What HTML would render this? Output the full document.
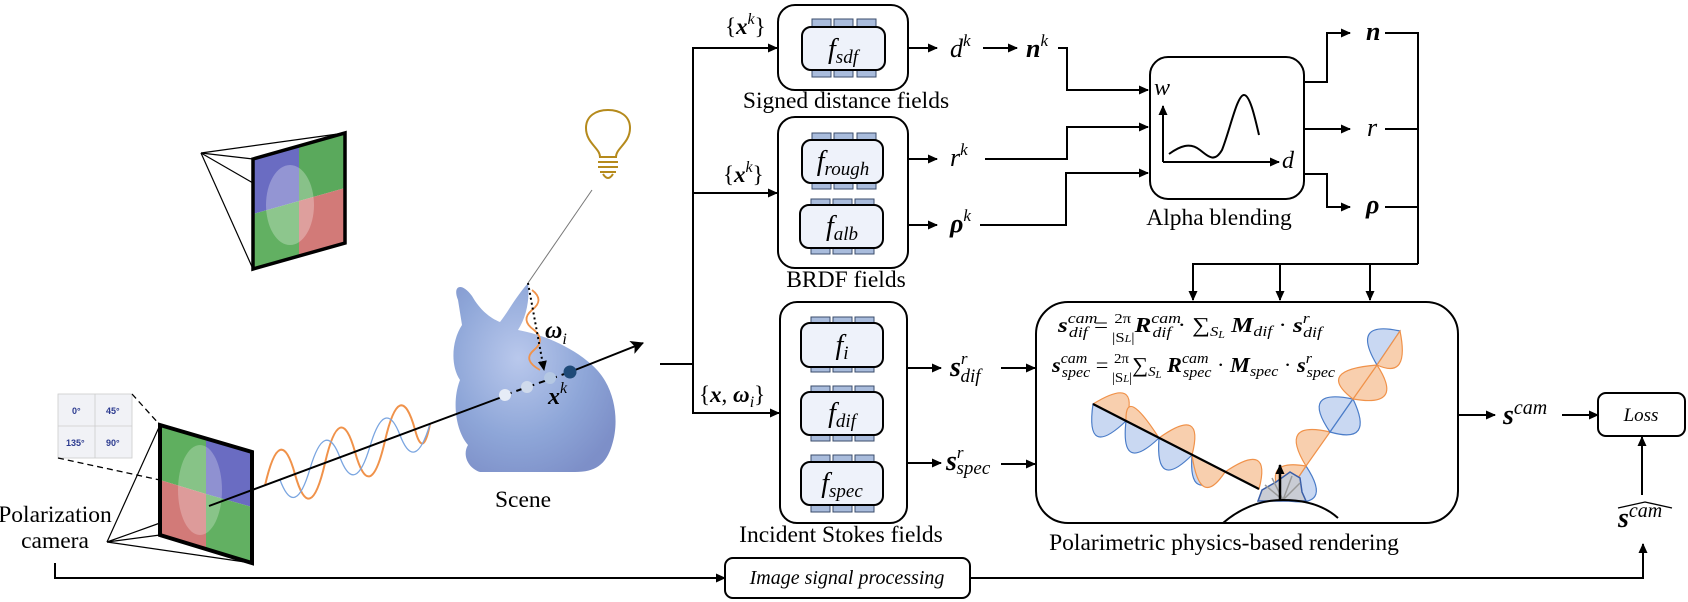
<!DOCTYPE html>
<html><head><meta charset="utf-8"><style>
html,body{margin:0;padding:0;background:#fff;}
svg{display:block;}
text{font-family:"Liberation Serif",serif;fill:#000;}
.it{font-style:italic;}
.bi{font-style:italic;font-weight:bold;}
.lbl{font-size:23.5px;}
</style></head><body>
<svg width="1688" height="602" viewBox="0 0 1688 602" xmlns="http://www.w3.org/2000/svg">
<defs>
<marker id="ah" markerWidth="10" markerHeight="10" refX="9" refY="5" orient="auto" markerUnits="userSpaceOnUse">
<path d="M0,0.5 L10,5 L0,9.5 Z" fill="#000"/></marker>
<marker id="ah2" markerWidth="14" markerHeight="14" refX="12" refY="7" orient="auto" markerUnits="userSpaceOnUse">
<path d="M0,0 L13,7 L0,14 L3,7 Z" fill="#000"/></marker>
<radialGradient id="bun" cx="0.4" cy="0.4" r="0.7">
<stop offset="0" stop-color="#b9c8ec"/><stop offset="0.6" stop-color="#8ea6d8"/><stop offset="1" stop-color="#7d8fc8"/></radialGradient>
</defs>

<!-- top camera -->
<g stroke="#000" stroke-width="1.2" fill="none">
<line x1="201" y1="153" x2="253" y2="159"/><line x1="201" y1="153" x2="345" y2="133"/>
<line x1="201" y1="153" x2="253" y2="269"/><line x1="201" y1="153" x2="253" y2="183"/>
</g>
<polygon points="253,159 299,146 299,201 253,214" fill="#6a6cc2"/>
<polygon points="299,146 345,133 345,188 299,201" fill="#5aa95c"/>
<polygon points="253,214 299,201 299,256 253,269" fill="#62b062"/>
<polygon points="299,201 345,188 345,243 299,256" fill="#d27a78"/>
<ellipse cx="290" cy="205" rx="24" ry="40" fill="#fff" opacity="0.28"/>
<polygon points="253,159 345,133 345,243 253,269" fill="none" stroke="#000" stroke-width="3.5"/>

<!-- small grid -->
<g stroke="#ccc" stroke-width="0.8">
<rect x="58" y="394" width="74" height="64" fill="#f1f2f6"/>
<line x1="95" y1="394" x2="95" y2="458"/><line x1="58" y1="426" x2="132" y2="426"/>
</g>
<g font-size="9" font-weight="bold">
<text x="72" y="414" style="font-family:'Liberation Sans',sans-serif;fill:#2b3a8f">0°</text>
<text x="106" y="414" style="font-family:'Liberation Sans',sans-serif;fill:#2b3a8f">45°</text>
<text x="66" y="446" style="font-family:'Liberation Sans',sans-serif;fill:#2b3a8f">135°</text>
<text x="106" y="446" style="font-family:'Liberation Sans',sans-serif;fill:#2b3a8f">90°</text>
</g>
<g stroke="#000" stroke-width="1.3" stroke-dasharray="6,4" fill="none">
<line x1="132" y1="394" x2="160" y2="425"/><line x1="58" y1="458" x2="160" y2="480"/>
</g>

<!-- bottom camera -->
<g stroke="#000" stroke-width="1.2" fill="none">
<line x1="107" y1="542" x2="160" y2="425"/><line x1="107" y1="542" x2="160" y2="523"/>
<line x1="107" y1="542" x2="160" y2="535"/><line x1="107" y1="542" x2="252" y2="563"/>
</g>
<polygon points="160,425 206,438 206,494 160,480" fill="#5faf5f"/>
<polygon points="206,438 252,452 252,507 206,494" fill="#6a6cc2"/>
<polygon points="160,480 206,494 206,549 160,535" fill="#d27a78"/>
<polygon points="206,494 252,507 252,563 206,549" fill="#62b062"/>
<ellipse cx="200" cy="490" rx="22" ry="45" fill="#fff" opacity="0.25"/>
<polygon points="160,425 252,452 252,563 160,535" fill="none" stroke="#000" stroke-width="4"/>
<text class="lbl" x="55" y="522" text-anchor="middle">Polarization</text>
<text class="lbl" x="55" y="548" text-anchor="middle">camera</text>

<!-- bunny -->
<path d="M458,300 C452,285 462,282 472,296 C480,310 490,318 500,322 C508,312 515,298 528,283 C530,300 526,318 518,330 C540,334 570,345 592,365 C615,385 620,420 612,445 C606,465 595,472 575,472 L480,472 C468,468 462,455 468,445 C455,430 452,400 460,380 C450,365 452,340 462,325 Z" fill="url(#bun)"/>
<text class="lbl" x="523" y="507" text-anchor="middle">Scene</text>

<!-- ray and waves -->
<path d="M265,485.5 Q280,420 295,474.3 Q310,528 325,463.1 Q340,398 355,451.9 Q370,506 385,440.7 Q400,376 415,429.6 Q423,460 430,424" fill="none" stroke="#f0924a" stroke-width="2"/>
<path d="M280,479.9 Q295,520 310,468.7 Q325,418 340,457.5 Q355,497 370,446.3 Q385,396 400,435.1 Q415,474 430,424" fill="none" stroke="#7aa5e0" stroke-width="1.3"/>
<line x1="209" y1="506" x2="502" y2="397" stroke="#000" stroke-width="2"/>
<line x1="505" y1="395" x2="570" y2="372" stroke="#000" stroke-width="2" stroke-dasharray="7,5"/>
<line x1="570" y1="372" x2="643" y2="343" stroke="#000" stroke-width="2" marker-end="url(#ah2)"/>
<circle cx="505" cy="395" r="6" fill="#e6ecf6"/><circle cx="527" cy="387" r="6" fill="#cfdaec"/>
<circle cx="550" cy="378" r="6" fill="#b5c8e3"/><circle cx="570" cy="372" r="6.5" fill="#1f4a78"/>

<!-- light bulb -->
<g stroke="#b58a1c" stroke-width="2" fill="none">
<path d="M600,157 C600,148 586,143 586,128 C586,116 596,110 608,110 C620,110 630,116 630,128 C630,143 616,148 616,157 Z"/>
<line x1="598" y1="162" x2="618" y2="162"/><line x1="598" y1="167" x2="618" y2="167"/><line x1="600" y1="172" x2="616" y2="172"/>
<path d="M603,174 Q608,182 613,174"/>
</g>
<line x1="592" y1="190" x2="528" y2="283" stroke="#777" stroke-width="1"/>
<path d="M532,290 Q545,300 532,310 Q520,320 534,330 Q546,340 534,350 Q522,360 540,370" fill="none" stroke="#f0924a" stroke-width="1.8"/>
<line x1="528" y1="283" x2="544" y2="370" stroke="#000" stroke-width="2" stroke-dasharray="2,3" marker-end="url(#ah)"/>
<text class="bi" x="545" y="338" font-size="24">ω<tspan font-size="16" font-weight="normal" dy="6">i</tspan></text>
<text class="bi" x="548" y="404" font-size="24">x<tspan font-size="16" font-weight="normal" dy="-11">k</tspan></text>

<!-- trunk -->
<g stroke="#000" stroke-width="2" fill="none">
<polyline points="660,364 693,364"/>
<polyline points="693,413 693,48 777,48" marker-end="url(#ah)"/>
<polyline points="693,193 777,193" marker-end="url(#ah)"/>
<polyline points="693,364 693,413 779,413" marker-end="url(#ah)"/>
</g>
<text x="725" y="34" font-size="23">{<tspan class="bi">x</tspan><tspan class="it" font-size="16" dy="-10">k</tspan><tspan dy="10">}</tspan></text>
<text x="723" y="182" font-size="23">{<tspan class="bi">x</tspan><tspan class="it" font-size="16" dy="-10">k</tspan><tspan dy="10">}</tspan></text>
<text x="699" y="402" font-size="23">{<tspan class="bi">x</tspan>, <tspan class="bi">ω</tspan><tspan class="it" font-size="16" dy="5">i</tspan><tspan dy="-5">}</tspan></text>

<!-- network boxes -->
<g fill="none" stroke="#000" stroke-width="2">
<rect x="778" y="5" width="130" height="85" rx="17"/>
<rect x="778" y="117" width="130" height="151" rx="17"/>
<rect x="780" y="302" width="127" height="221" rx="17"/>
</g>
<g fill="#a9bcdc" stroke="#3b4d6b" stroke-width="1">
<rect x="812" y="19" width="19" height="8"/><rect x="834" y="19" width="19" height="8"/><rect x="857" y="19" width="19" height="8"/>
<rect x="812" y="70" width="19" height="7"/><rect x="834" y="70" width="19" height="7"/><rect x="857" y="70" width="19" height="7"/>
<rect x="812" y="133" width="19" height="7"/><rect x="834" y="133" width="19" height="7"/><rect x="857" y="133" width="19" height="7"/>
<rect x="812" y="183" width="19" height="6"/><rect x="834" y="183" width="19" height="6"/><rect x="857" y="183" width="19" height="6"/>
<rect x="811" y="199" width="19" height="6"/><rect x="833" y="199" width="19" height="6"/><rect x="855" y="199" width="19" height="6"/>
<rect x="811" y="248" width="19" height="6"/><rect x="833" y="248" width="19" height="6"/><rect x="855" y="248" width="19" height="6"/>
<rect x="811" y="317" width="19" height="6"/><rect x="833" y="317" width="19" height="6"/><rect x="855" y="317" width="19" height="6"/>
<rect x="811" y="367" width="19" height="5"/><rect x="833" y="367" width="19" height="5"/><rect x="855" y="367" width="19" height="5"/>
<rect x="811" y="386" width="19" height="6"/><rect x="833" y="386" width="19" height="6"/><rect x="855" y="386" width="19" height="6"/>
<rect x="811" y="435" width="19" height="6"/><rect x="833" y="435" width="19" height="6"/><rect x="855" y="435" width="19" height="6"/>
<rect x="811" y="455" width="19" height="7"/><rect x="833" y="455" width="19" height="7"/><rect x="855" y="455" width="19" height="7"/>
<rect x="811" y="505" width="19" height="7"/><rect x="833" y="505" width="19" height="7"/><rect x="855" y="505" width="19" height="7"/>
</g>
<g fill="#eef2fa" stroke="#000" stroke-width="2">
<rect x="802" y="27" width="83" height="43" rx="9"/>
<rect x="802" y="140" width="81" height="43" rx="9"/>
<rect x="800" y="205" width="83" height="43" rx="9"/>
<rect x="801" y="323" width="82" height="44" rx="9"/>
<rect x="801" y="392" width="82" height="43" rx="9"/>
<rect x="801" y="462" width="82" height="43" rx="9"/>
</g>
<g font-size="28">
<text x="843" y="58" text-anchor="middle" class="it">f<tspan font-size="19" dy="5">sdf</tspan></text>
<text x="843" y="170" text-anchor="middle" class="it">f<tspan font-size="19" dy="5">rough</tspan></text>
<text x="842" y="235" text-anchor="middle" class="it">f<tspan font-size="19" dy="5">alb</tspan></text>
<text x="842" y="354" text-anchor="middle" class="it">f<tspan font-size="19" dy="5">i</tspan></text>
<text x="842" y="422" text-anchor="middle" class="it">f<tspan font-size="19" dy="5">dif</tspan></text>
<text x="842" y="492" text-anchor="middle" class="it">f<tspan font-size="19" dy="5">spec</tspan></text>
</g>
<text class="lbl" x="846" y="108" text-anchor="middle">Signed distance fields</text>
<text class="lbl" x="846" y="287" text-anchor="middle">BRDF fields</text>
<text class="lbl" x="841" y="542" text-anchor="middle">Incident Stokes fields</text>

<!-- field outputs -->
<g stroke="#000" stroke-width="2" fill="none">
<line x1="908" y1="48" x2="937" y2="48" marker-end="url(#ah)"/>
<line x1="983" y1="48" x2="1017" y2="48" marker-end="url(#ah)"/>
<polyline points="1058,48 1067,48 1067,90 1148,90" marker-end="url(#ah)"/>
<line x1="908" y1="159" x2="937" y2="159" marker-end="url(#ah)"/>
<polyline points="985,159 1067,159 1067,127 1148,127" marker-end="url(#ah)"/>
<line x1="908" y1="225" x2="937" y2="225" marker-end="url(#ah)"/>
<polyline points="980,225 1066,225 1066,173 1148,173" marker-end="url(#ah)"/>
<line x1="907" y1="368" x2="941" y2="368" marker-end="url(#ah)"/>
<line x1="1001" y1="368" x2="1035" y2="368" marker-end="url(#ah)"/>
<line x1="907" y1="463" x2="941" y2="463" marker-end="url(#ah)"/>
<line x1="1001" y1="464" x2="1035" y2="464" marker-end="url(#ah)"/>
</g>
<text class="it" x="950" y="57" font-size="26">d<tspan font-size="17" dy="-11">k</tspan></text>
<text class="bi" x="1026" y="57" font-size="26">n<tspan font-size="17" font-weight="normal" dy="-11">k</tspan></text>
<text class="it" x="950" y="166" font-size="26">r<tspan font-size="17" dy="-11">k</tspan></text>
<text class="bi" x="950" y="232" font-size="26">ρ<tspan font-size="17" font-weight="normal" dy="-11">k</tspan></text>
<text class="bi" x="950" y="376" font-size="28">s<tspan font-size="17" font-weight="normal" dy="-12">r</tspan><tspan font-size="19" font-weight="normal" dx="-7" dy="18">dif</tspan></text>
<text class="bi" x="946" y="470" font-size="28">s<tspan font-size="17" font-weight="normal" dy="-12">r</tspan><tspan font-size="19" font-weight="normal" dx="-7" dy="16">spec</tspan></text>

<!-- alpha blending -->
<rect x="1150" y="57" width="154" height="142" rx="18" fill="none" stroke="#000" stroke-width="2"/>
<text class="it" x="1154" y="95" font-size="24">w</text>
<line x1="1163" y1="162" x2="1163" y2="106" stroke="#000" stroke-width="2" marker-end="url(#ah)"/>
<line x1="1163" y1="162" x2="1279" y2="162" stroke="#000" stroke-width="2" marker-end="url(#ah)"/>
<text class="it" x="1282" y="168" font-size="24">d</text>
<path d="M1169,154 C1180,146 1190,142 1200,150 C1210,158 1215,162 1222,150 C1230,130 1237,95 1244,95 C1250,95 1255,118 1259,135" fill="none" stroke="#000" stroke-width="2"/>
<text class="lbl" x="1219" y="225" text-anchor="middle">Alpha blending</text>
<g stroke="#000" stroke-width="2" fill="none">
<polyline points="1304,82 1327,82 1327,33 1350,33" marker-end="url(#ah)"/>
<line x1="1304" y1="129" x2="1350" y2="129" marker-end="url(#ah)"/>
<polyline points="1304,174 1327,174 1327,207 1350,207" marker-end="url(#ah)"/>
<polyline points="1385,33 1418,33 1418,264"/>
<line x1="1385" y1="129" x2="1418" y2="129"/>
<line x1="1385" y1="207" x2="1418" y2="207"/>
<polyline points="1418,264 1193,264 1193,300" marker-end="url(#ah)"/>
<line x1="1280" y1="264" x2="1280" y2="300" marker-end="url(#ah)"/>
<line x1="1370" y1="264" x2="1370" y2="300" marker-end="url(#ah)"/>
</g>
<text class="bi" x="1366" y="40" font-size="26">n</text>
<text class="it" x="1367" y="136" font-size="26">r</text>
<text class="bi" x="1366" y="213" font-size="26">ρ</text>

<!-- polarimetric rendering -->
<rect x="1036" y="302" width="422" height="221" rx="32" fill="none" stroke="#000" stroke-width="2"/>
<text x="1058" y="332" font-size="21" textLength="264" lengthAdjust="spacingAndGlyphs"><tspan class="bi">s</tspan><tspan class="it" font-size="15" dy="-9">cam</tspan><tspan class="it" font-size="15" dx="-24" dy="14">dif</tspan><tspan dy="-5"> = </tspan><tspan font-size="14" dy="-9">2π</tspan><tspan font-size="14" dx="-16" dy="19">|S</tspan><tspan font-size="10" class="it">L</tspan><tspan font-size="14">|</tspan><tspan class="bi" dy="-10">R</tspan><tspan class="it" font-size="15" dy="-9">cam</tspan><tspan class="it" font-size="15" dx="-24" dy="14">dif</tspan><tspan dy="-5"> · ∑</tspan><tspan class="it" font-size="14" dy="4">S</tspan><tspan class="it" font-size="10" dy="2">L</tspan><tspan class="bi" dy="-6"> M</tspan><tspan class="it" font-size="15" dy="4">dif</tspan><tspan dy="-4"> · </tspan><tspan class="bi">s</tspan><tspan class="it" font-size="15" dy="-9">r</tspan><tspan class="it" font-size="15" dx="-5" dy="14">dif</tspan></text>
<text x="1052" y="372" font-size="21" textLength="283" lengthAdjust="spacingAndGlyphs"><tspan class="bi">s</tspan><tspan class="it" font-size="15" dy="-9">cam</tspan><tspan class="it" font-size="15" dx="-24" dy="14">spec</tspan><tspan dy="-5"> = </tspan><tspan font-size="14" dy="-9">2π</tspan><tspan font-size="14" dx="-16" dy="19">|S</tspan><tspan font-size="10" class="it">L</tspan><tspan font-size="14">|</tspan><tspan dy="-10">∑</tspan><tspan class="it" font-size="14" dy="4">S</tspan><tspan class="it" font-size="10" dy="2">L</tspan><tspan class="bi" dy="-6"> R</tspan><tspan class="it" font-size="15" dy="-9">cam</tspan><tspan class="it" font-size="15" dx="-24" dy="14">spec</tspan><tspan dy="-5"> · </tspan><tspan class="bi">M</tspan><tspan class="it" font-size="15" dy="4">spec</tspan><tspan dy="-4"> · </tspan><tspan class="bi">s</tspan><tspan class="it" font-size="15" dy="-9">r</tspan><tspan class="it" font-size="15" dx="-5" dy="14">spec</tspan></text>

<g stroke-width="1.2">
<path d="M1093,404 Q1140,375 1126,421 Z" fill="#f8cfae" stroke="#f0924a"/>
<path d="M1093,404 Q1085,460 1126,421 Z" fill="#c9d8f2" stroke="#4a7cc8"/>
<path d="M1126,421 Q1120,475 1159,438 Z" fill="#c9d8f2" stroke="#4a7cc8"/>
<path d="M1126,421 Q1125,385 1159,438 Z" fill="#f8cfae" stroke="#f0924a"/>
<path d="M1159,438 Q1205,405 1192,455 Z" fill="#f8cfae" stroke="#f0924a"/>
<path d="M1192,455 Q1188,505 1225,472 Z" fill="#c9d8f2" stroke="#4a7cc8"/>
<path d="M1159,438 Q1155,492 1192,455 Z" fill="#c9d8f2" stroke="#4a7cc8"/>
<path d="M1225,472 Q1272,440 1259,489 Z" fill="#f8cfae" stroke="#f0924a"/>
<path d="M1192,455 Q1200,510 1225,472 Z" fill="#f8cfae" stroke="#f0924a"/>
<path d="M1283,500 Q1335,510 1306,466 Z" fill="#c9d8f2" stroke="#4a7cc8"/>
<path d="M1306,466 Q1278,420 1330,432 Z" fill="#f8cfae" stroke="#f0924a"/>
<path d="M1283,500 Q1260,458 1306,466 Z" fill="#f8cfae" stroke="#f0924a"/>
<path d="M1330,432 Q1300,388 1353,399 Z" fill="#c9d8f2" stroke="#4a7cc8"/>
<path d="M1330,432 Q1375,445 1353,399 Z" fill="#c9d8f2" stroke="#4a7cc8"/>
<path d="M1353,399 Q1405,408 1377,365 Z" fill="#f8cfae" stroke="#f0924a"/>
<path d="M1353,399 Q1315,370 1377,365 Z" fill="#f8cfae" stroke="#f0924a"/>
<path d="M1377,365 Q1350,320 1400,331 Z" fill="#c9d8f2" stroke="#4a7cc8"/>
<path d="M1377,365 Q1410,380 1400,331 Z" fill="#f8cfae" stroke="#f0924a"/>
</g>
<line x1="1093" y1="404" x2="1259" y2="489" stroke="#000" stroke-width="2.2"/>
<path d="M1258,501 L1262,490 L1276,482 L1290,472 L1300,478 L1302,492 L1306,501 Z" fill="#c9ccd4" stroke="#3a5ea8" stroke-width="1.5"/>
<g stroke="#999" stroke-width="1.5"><line x1="1283" y1="500" x2="1265" y2="485"/><line x1="1283" y1="500" x2="1272" y2="478"/><line x1="1283" y1="500" x2="1292" y2="476"/><line x1="1283" y1="500" x2="1300" y2="483"/></g>
<line x1="1280" y1="500" x2="1280" y2="465" stroke="#000" stroke-width="2.5" marker-end="url(#ah)"/>
<path d="M1223,523 Q1250,500 1283,500 Q1318,500 1338,518" fill="none" stroke="#000" stroke-width="2"/>
<text class="lbl" x="1224" y="550" text-anchor="middle">Polarimetric physics-based rendering</text>

<!-- output / loss -->
<line x1="1458" y1="415" x2="1495" y2="415" stroke="#000" stroke-width="2" marker-end="url(#ah)"/>
<text class="bi" x="1503" y="424" font-size="28">s<tspan class="it" font-weight="normal" font-size="20" dy="-10">cam</tspan></text>
<line x1="1562" y1="415" x2="1598" y2="415" stroke="#000" stroke-width="2" marker-end="url(#ah)"/>
<rect x="1598" y="393" width="87" height="43" rx="8" fill="none" stroke="#000" stroke-width="2"/>
<text class="it" x="1641" y="421" text-anchor="middle" font-size="19">Loss</text>
<line x1="1642" y1="495" x2="1642" y2="437" stroke="#000" stroke-width="2" marker-end="url(#ah)"/>
<text class="bi" x="1618" y="527" font-size="28">s<tspan class="it" font-weight="normal" font-size="20" dy="-10">cam</tspan></text>
<path d="M1618,508 L1645,502 L1672,508" fill="none" stroke="#000" stroke-width="1.3"/>

<!-- ISP -->
<g stroke="#000" stroke-width="2" fill="none">
<polyline points="55,563 55,578 725,578" marker-end="url(#ah)"/>
<polyline points="970,578 1643,578 1643,544" marker-end="url(#ah)"/>
<rect x="725" y="558" width="245" height="40" rx="8"/>
</g>
<text class="it" x="847" y="584" text-anchor="middle" font-size="20">Image signal processing</text>
</svg>
</body></html>
